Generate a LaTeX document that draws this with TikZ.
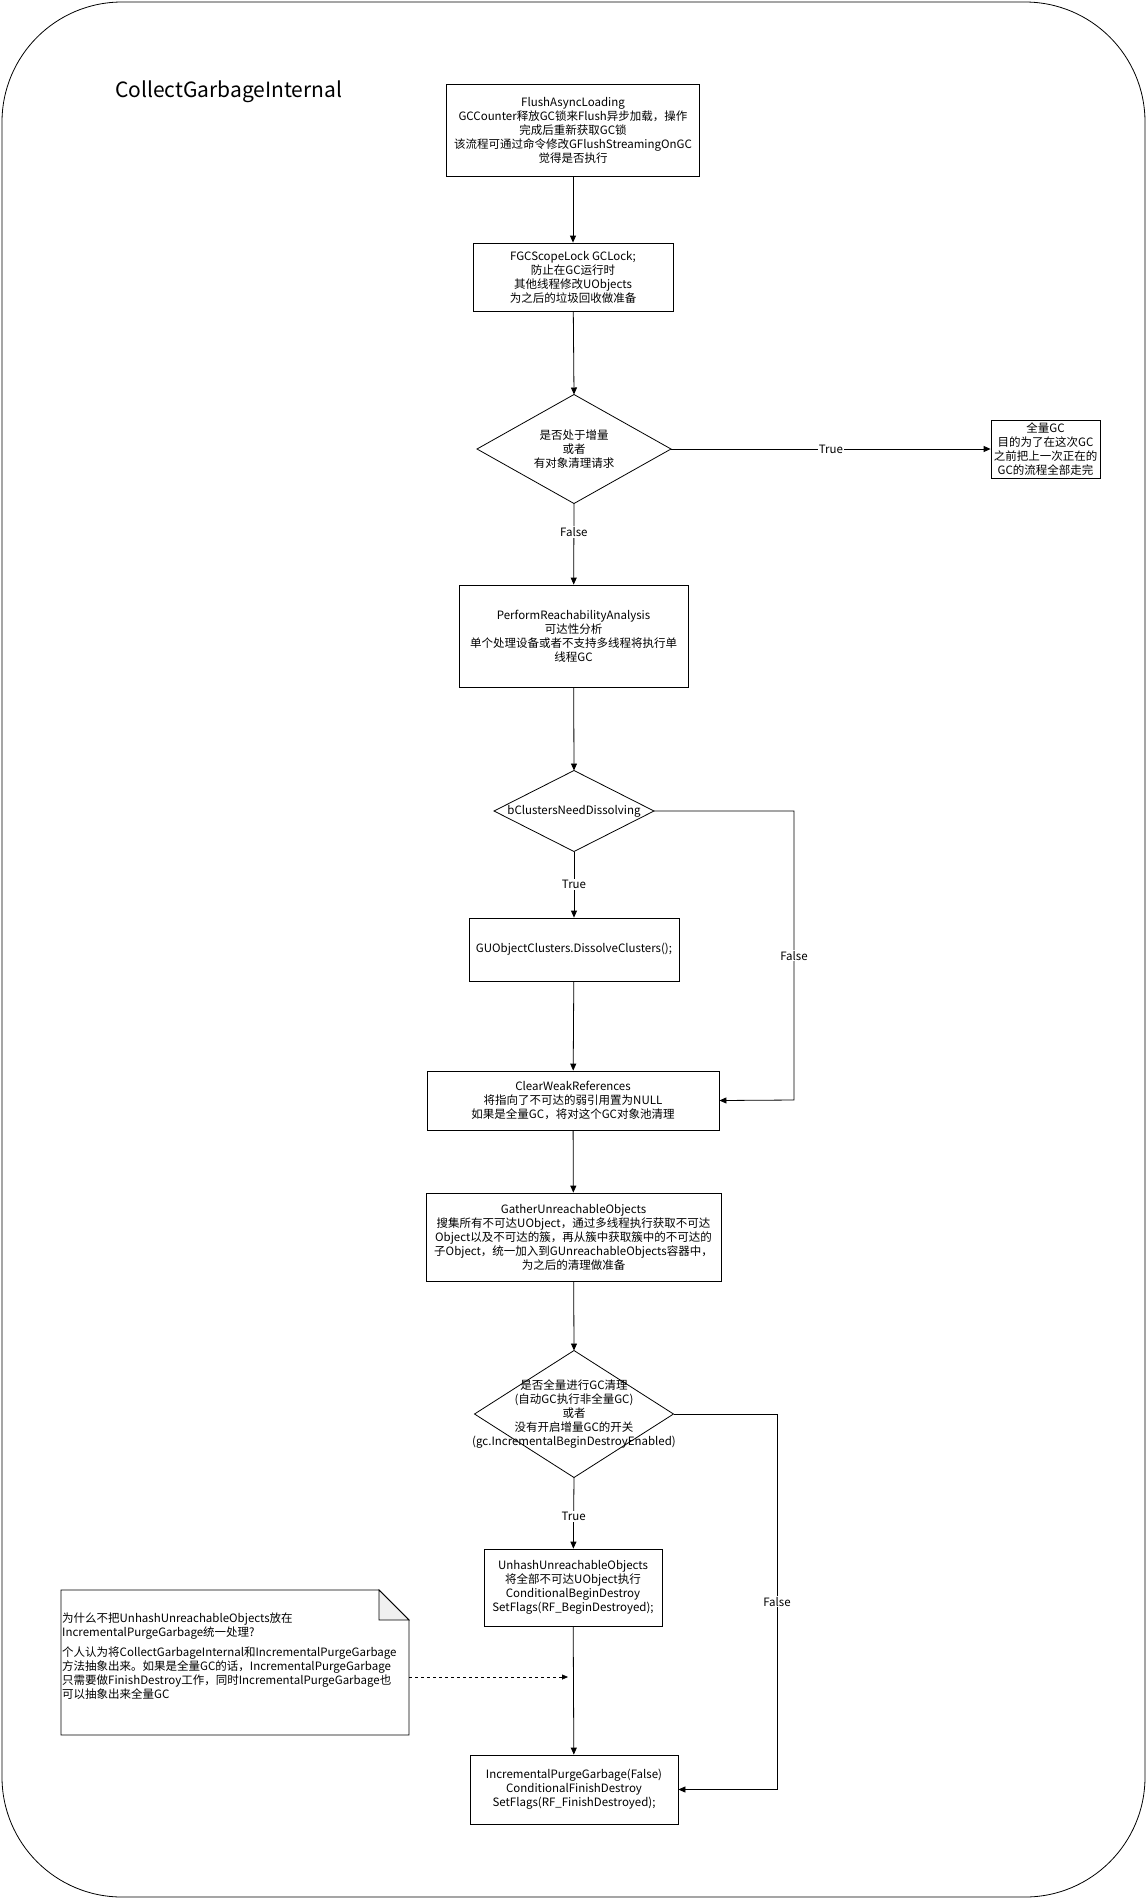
\documentclass[tikz,border=0pt]{standalone}
\usepackage{fontspec}
\setmainfont{Noto Sans CJK SC}
\usetikzlibrary{shapes.geometric,arrows.meta}
\begin{document}
\begin{tikzpicture}[x=1pt,y=-1pt,
  every node/.style={font=\fontsize{11.5}{14}\selectfont,align=center,inner sep=1pt},
  box/.style={draw,thick,minimum width=#1,inner sep=2pt},
  dia/.style={draw,thick,diamond,aspect=1.8,inner sep=0pt},
  arr/.style={-{Triangle[length=7pt,width=6pt]},thick},
  lab/.style={fill=white,inner sep=1pt}]
\useasboundingbox (0,0) rectangle (1147,1899);
\draw[thick] (2,2) [rounded corners=120] rectangle (1145,1897);
\node[anchor=west,font=\fontsize{21}{24}\selectfont] (title) at (114,92) {CollectGarbageInternal};

\node[box=253pt,minimum height=92pt] (b1) at (573,130) {FlushAsyncLoading\\GCCounter释放GC锁来Flush异步加载，操作\\完成后重新获取GC锁\\该流程可通过命令修改GFlushStreamingOnGC\\觉得是否执行};
\node[box=200pt,minimum height=68pt] (b2) at (573,277) {FGCScopeLock GCLock;\\防止在GC运行时\\其他线程修改UObjects\\为之后的垃圾回收做准备};
\draw[thick] (574,394.5) -- (671,449) -- (574,503.5) -- (477,449) -- cycle;
\coordinate (d1) at (574,449);
\coordinate (d1t) at (574,394.5); \coordinate (d1b) at (574,503.5); \coordinate (d1r) at (671,449);
\node (d1txt) at (d1) {是否处于增量\\或者\\有对象清理请求};
\node[box=109pt,minimum height=58pt] (rb) at (1045.5,449) {全量GC\\目的为了在这次GC\\之前把上一次正在的\\GC的流程全部走完};
\node[box=229pt,minimum height=102pt] (b3) at (573.5,636) {PerformReachabilityAnalysis\\可达性分析\\单个处理设备或者不支持多线程将执行单\\线程GC};
\draw[thick] (574,770.5) -- (654,811) -- (574,851.5) -- (494,811) -- cycle;
\coordinate (d2t) at (574,770.5); \coordinate (d2b) at (574,851.5); \coordinate (d2r) at (654,811);
\node (d2txt) at (574,811) {bClustersNeedDissolving};
\node[box=210pt,minimum height=63pt] (gu) at (574,949.5) {GUObjectClusters.DissolveClusters();};
\node[box=292pt,minimum height=59pt] (b4) at (573,1100.5) {ClearWeakReferences\\将指向了不可达的弱引用置为NULL\\如果是全量GC，将对这个GC对象池清理};
\node[box=295pt,minimum height=88pt] (b5) at (573.5,1237) {GatherUnreachableObjects\\搜集所有不可达UObject，通过多线程执行获取不可达\\Object以及不可达的簇，再从簇中获取簇中的不可达的\\子Object，统一加入到GUnreachableObjects容器中，\\为之后的清理做准备};
\draw[thick] (574,1350.5) -- (673.5,1414) -- (574,1477.5) -- (474.5,1414) -- cycle;
\coordinate (d3t) at (574,1350.5); \coordinate (d3b) at (574,1477.5); \coordinate (d3r) at (673.5,1414);
\node (d3txt) at (574,1414) {是否全量进行GC清理\\(自动GC执行非全量GC)\\或者\\没有开启增量GC的开关\\(gc.IncrementalBeginDestroyEnabled)};
\node[box=178pt,minimum height=77pt] (b6) at (573,1587.5) {UnhashUnreachableObjects\\将全部不可达UObject执行\\ConditionalBeginDestroy\\SetFlags(RF\_BeginDestroyed);};
\node[box=208pt,minimum height=69pt] (b7) at (574,1789.5) {IncrementalPurgeGarbage(False)\\ConditionalFinishDestroy\\SetFlags(RF\_FinishDestroyed);};

\draw[thick] (61,1590) -- (379,1590) -- (409,1620) -- (409,1735) -- (61,1735) -- cycle;
\draw[thick,fill=gray!12] (379,1590) -- (379,1620) -- (409,1620) -- cycle;
\node[anchor=north west,align=left] (note) at (61,1612) {为什么不把UnhashUnreachableObjects放在\\IncrementalPurgeGarbage统一处理?\\[6pt]个人认为将CollectGarbageInternal和IncrementalPurgeGarbage\\方法抽象出来。如果是全量GC的话，IncrementalPurgeGarbage\\只需要做FinishDestroy工作，同时IncrementalPurgeGarbage也\\可以抽象出来全量GC};

\draw[arr] (b1) -- (b2);
\draw[arr] (b2) -- (d1t);
\draw[arr] (d1r) -- node[lab]{True} (rb);
\draw[arr] (d1b) -- node[lab,pos=0.35]{False} (b3);
\draw[arr] (b3) -- (d2t);
\draw[arr] (d2b) -- node[lab,pos=0.5]{True} (gu);
\draw[arr] (d2r) -- (794,811) -- node[lab]{False} (794,1100) -- (b4.east);
\draw[arr] (gu) -- (b4);
\draw[arr] (b4) -- (b5);
\draw[arr] (b5) -- (d3t);
\draw[arr] (d3b) -- node[lab,pos=0.55]{True} (b6);
\draw[arr] (d3r) -- (777,1414) -- node[lab]{False} (777,1789.5) -- (b7.east);
\draw[arr] (b6) -- (b7);
\coordinate (nt) at (568,1677);
\draw[arr,dashed,thin,-{Triangle[length=6pt,width=5pt]}] (409,1677) -- (nt);
\end{tikzpicture}
\end{document}
